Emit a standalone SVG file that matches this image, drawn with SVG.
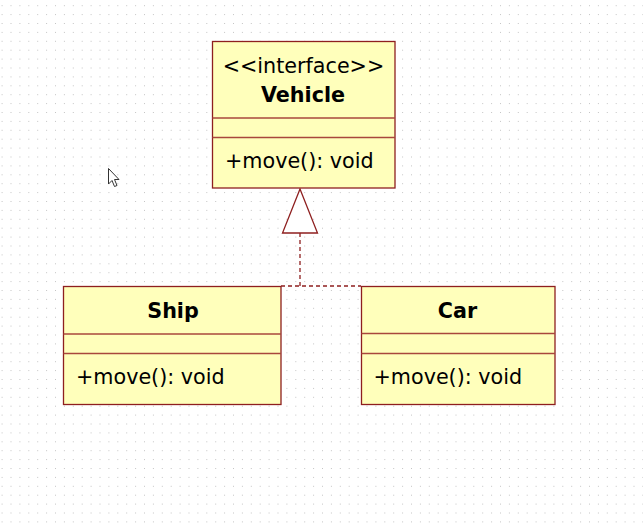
<svg xmlns="http://www.w3.org/2000/svg" width="643" height="524" viewBox="0 0 643 524">
  <style>
    .box { fill: #ffffbb; stroke: #8e1f1f; stroke-width: 1.3; }
    .div { stroke: #a8473c; stroke-width: 1.3; }
    .t { font-family: "DejaVu Sans", Verdana, sans-serif; font-size: 20.7px; fill: #000; }
    .b { font-weight: bold; }
    .conn { stroke: #8e1f1f; stroke-width: 1.3; fill: none; }
  </style>
  <defs>
    <pattern id="grid" x="1.6" y="5.2" width="8.9" height="8.9" patternUnits="userSpaceOnUse">
      <rect x="0" y="0" width="1" height="1" fill="#c4c4c4"/>
    </pattern>
  </defs>
  <rect width="643" height="524" fill="#ffffff"/>
  <rect width="643" height="524" fill="url(#grid)"/>

  <g id="connectors">
    <path class="conn" d="M300 233 V286 M281 286 H361" stroke-dasharray="4 3"/>
    <polygon class="conn" points="300,189 282.5,233 317.5,233" style="fill:#ffffff"/>
  </g>

  <g id="vehicle">
    <rect class="box" x="212.5" y="41.5" width="182.5" height="146.5"/>
    <line class="div" x1="212.5" y1="118" x2="395" y2="118"/>
    <line class="div" x1="212.5" y1="137.5" x2="395" y2="137.5"/>
    <text class="t" x="303.5" y="73" text-anchor="middle">&lt;&lt;interface&gt;&gt;</text>
    <text class="t b" x="303" y="101.5" text-anchor="middle">Vehicle</text>
    <text class="t" x="225" y="168">+move(): void</text>
  </g>

  <g id="ship">
    <rect class="box" x="63.5" y="286.5" width="217.5" height="118"/>
    <line class="div" x1="63.5" y1="334" x2="281" y2="334"/>
    <line class="div" x1="63.5" y1="353.5" x2="281" y2="353.5"/>
    <text class="t b" x="173" y="317.5" text-anchor="middle">Ship</text>
    <text class="t" x="76" y="384">+move(): void</text>
  </g>

  <g id="car">
    <rect class="box" x="361.5" y="286.5" width="193.5" height="118"/>
    <line class="div" x1="361.5" y1="333.5" x2="555" y2="333.5"/>
    <line class="div" x1="361.5" y1="353.5" x2="555" y2="353.5"/>
    <text class="t b" x="457.5" y="317.5" text-anchor="middle">Car</text>
    <text class="t" x="373.5" y="384">+move(): void</text>
  </g>

  <path d="M108.5 168.5 V184 L112 180.5 L114.5 186.5 L117 185.5 L114.5 179.5 L119 179.5 Z" fill="#ffffff" stroke="#333" stroke-width="1"/>
</svg>
